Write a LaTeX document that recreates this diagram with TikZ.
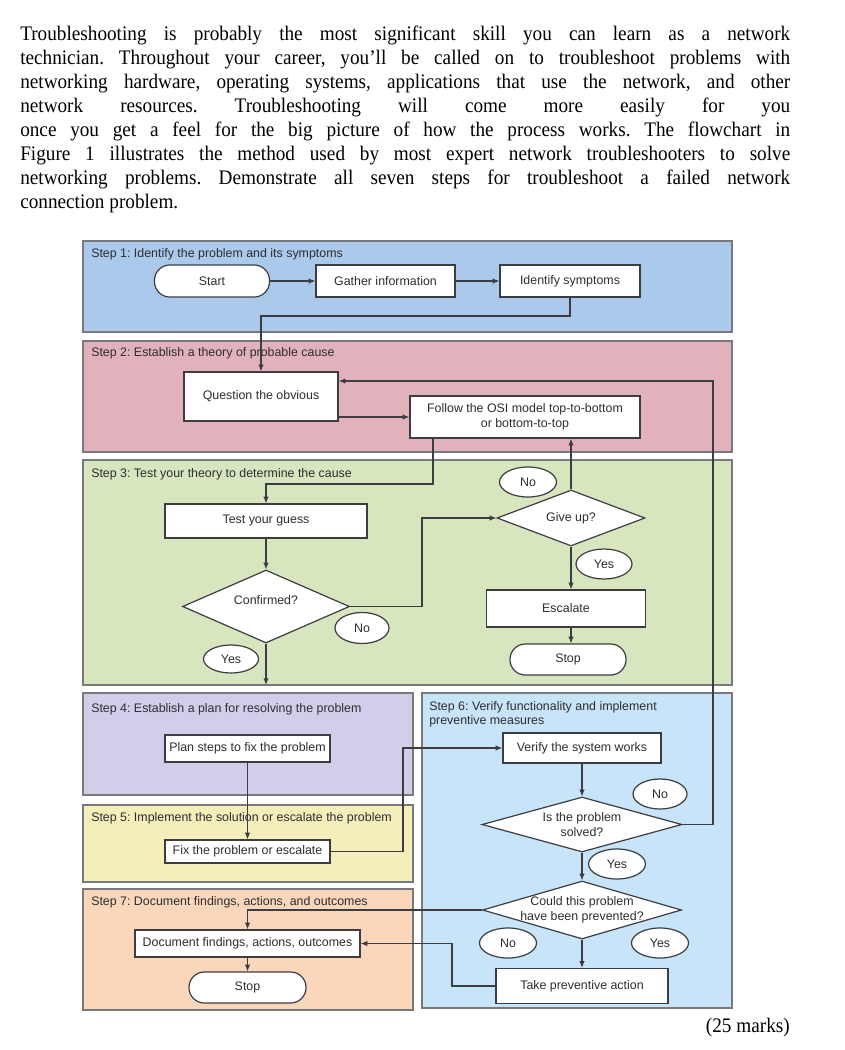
\documentclass[tikz,border=0pt]{standalone}
\usepackage{fontspec}
\setmainfont{Liberation Serif}[FakeStretch=0.93]
\newfontfamily\dfont{Liberation Sans}
\usetikzlibrary{shapes.geometric,arrows.meta}
\frenchspacing
\definecolor{cA}{RGB}{170,201,235}
\definecolor{cB}{RGB}{226,178,188}
\definecolor{cC}{RGB}{215,230,190}
\definecolor{cD}{RGB}{208,206,232}
\definecolor{cE}{RGB}{243,238,186}
\definecolor{cF}{RGB}{200,228,248}
\definecolor{cG}{RGB}{250,214,186}
\definecolor{regborder}{RGB}{120,120,125}
\definecolor{nodeborder}{RGB}{60,60,65}
\definecolor{txt}{RGB}{45,45,50}
\tikzset{
  region/.style={draw=regborder, line width=1.1pt},
  blk/.style 2 args={draw=nodeborder, fill=white, line width=0.9pt,
     minimum width=#1*0.75pt, minimum height=#2*0.75pt, inner sep=1pt,
     font=\dfont\fontsize{9.3}{11}\selectfont, text=txt, align=center},
  term/.style 2 args={blk={#1}{#2}, rounded corners=11.5pt},
  dia/.style 2 args={blk={#1}{#2}, diamond, inner sep=0pt},
  dtext/.style={inner sep=0pt, font=\dfont\fontsize{9.3}{11}\selectfont, text=txt, align=center},
  lab/.style 2 args={blk={#1}{#2}, ellipse, inner sep=0pt},
  steptitle/.style={anchor=base west, inner sep=0pt, font=\dfont\fontsize{9.3}{13}\selectfont, text=txt, align=left},
  para/.style={anchor=base west, inner sep=0pt, font=\fontsize{15.5}{18}\selectfont},
  arr/.style={draw=nodeborder, line width=0.8pt, -{Latex[length=5pt,width=4pt]}},
  ln/.style={draw=nodeborder, line width=0.8pt}
}
\begin{document}
\begin{tikzpicture}[x=0.75pt,y=-0.75pt]
\useasboundingbox[fill=white] (0,0) rectangle (845,1050);

% paragraph
\node[para] (l1) at (20,40.5) {\makebox[577.5pt][s]{Troubleshooting is probably the most significant skill you can learn as a network}};
\node[para] (l2) at (20,64.5) {\makebox[577.5pt][s]{technician. Throughout your career, you’ll be called on to troubleshoot problems with}};
\node[para] (l3) at (20,88.5) {\makebox[577.5pt][s]{networking hardware, operating systems, applications that use the network, and other}};
\node[para] (l4) at (20,112.5) {\makebox[577.5pt][s]{network resources. Troubleshooting will come more easily for you}};
\node[para] (l5) at (20,136.5) {\makebox[577.5pt][s]{once you get a feel for the big picture of how the process works. The flowchart in}};
\node[para] (l6) at (20,160.5) {\makebox[577.5pt][s]{Figure 1 illustrates the method used by most expert network troubleshooters to solve}};
\node[para] (l7) at (20,184.5) {\makebox[577.5pt][s]{networking problems. Demonstrate all seven steps for troubleshoot a failed network}};
\node[para] (l8) at (20,208.5) {connection problem.};
\node[anchor=base east, inner sep=0pt, font=\fontsize{15.5}{18}\selectfont] (marks) at (790,1032) {(25 marks)};

% regions
\draw[region, fill=cA] (83,241) rectangle (732,332);
\draw[region, fill=cB] (83,341) rectangle (732,452);
\draw[region, fill=cC] (83,460) rectangle (732,685);
\draw[region, fill=cD] (83,693) rectangle (413,795);
\draw[region, fill=cE] (83,805) rectangle (413,882);
\draw[region, fill=cG] (83,889) rectangle (413,1010);
\draw[region, fill=cF] (422,693) rectangle (732,1008);

\node[steptitle] (t1) at (91,257) {Step 1: Identify the problem and its symptoms};
\node[steptitle] (t2) at (91,356) {Step 2: Establish a theory of probable cause};
\node[steptitle] (t3) at (91,477) {Step 3: Test your theory to determine the cause};
\node[steptitle] (t4) at (91,712) {Step 4: Establish a plan for resolving the problem};
\node[steptitle] (t5) at (91,821) {Step 5: Implement the solution or escalate the problem};
\node[steptitle] (t7) at (91,905) {Step 7: Document findings, actions, and outcomes};
\node[steptitle] (t6a) at (429,710) {Step 6: Verify functionality and implement};
\node[steptitle] (t6b) at (429,724) {preventive measures};

% nodes
\node[term={115}{32}] (start) at (212,281) {Start};
\node[blk={139}{32}] (gather) at (385.5,281) {Gather information};
\node[blk={140}{32}] (ident) at (570,281) {Identify symptoms};
\node[blk={154}{49}] (question) at (261,396.5) {Question the obvious};
\node[blk={230}{42}] (osi) at (525,417) {Follow the OSI model top-to-bottom\\or bottom-to-top};
\node[blk={202}{34}] (test) at (266,521) {Test your guess};
\node[dia={167}{73}] (confirmed) at (266,606.5) {};
\node[dtext] (confirmedtxt) at (266,600) {Confirmed?};
\node[dia={148}{56}] (giveup) at (571,518) {};
\node[dtext] (giveuptxt) at (571,518) {Give up?};
\node[blk={159}{37}] (escalate) at (566,608.5) {Escalate};
\node[term={116}{31}] (stopA) at (568,659.5) {Stop};
\node[blk={165}{27}] (plan) at (247.5,748.5) {Plan steps to fix the problem};
\node[blk={165}{23}] (fix) at (247.5,851.5) {Fix the problem or escalate};
\node[blk={158}{30}] (verify) at (582,748) {Verify the system works};
\node[dia={200}{55}] (solved) at (582,824.5) {};
\node[dtext] (solvedtxt) at (582,824.5) {Is the problem\\solved?};
\node[dia={199}{58}] (could) at (582,910) {};
\node[dtext] (couldtxt) at (582,910) {Could this problem\\have been prevented?};
\node[blk={172}{35}] (take) at (582,986) {Take preventive action};
\node[blk={225}{27}] (doc) at (247.5,943.5) {Document findings, actions, outcomes};
\node[term={117}{31}] (stopB) at (247.5,987.5) {Stop};

% labels
\node[lab={57}{30}] (noA) at (528,482) {No};
\node[lab={56}{30}] (yesA) at (604,564) {Yes};
\node[lab={54}{31}] (noB) at (362,628) {No};
\node[lab={55}{28}] (yesB) at (231,659) {Yes};
\node[lab={54}{30}] (noC) at (660,794) {No};
\node[lab={57}{30}] (yesC) at (617,864) {Yes};
\node[lab={57}{30}] (noD) at (508,943) {No};
\node[lab={57}{30}] (yesD) at (660,943) {Yes};

% helper coordinates
\coordinate (c1) at (570,316);
\coordinate (rx) at (713,381);
\coordinate (osiout) at (433,438);
\coordinate (c3a) at (433,484);
\coordinate (c3b) at (422,606.5);
\coordinate (c3end) at (266,685);
\coordinate (c5) at (403,851.5);
\coordinate (c7) at (452,986);

% connectors
\draw[arr] (start) -- (gather);
\draw[arr] (gather) -- (ident);
\draw[arr] (ident.south) -- (c1) -| (question.north);
\draw[arr] (question.east |- osi.west) -- (osi.west);
\draw[arr] (solved.east) -| (rx) -- (question.east |- rx);
\draw[arr] (osiout) -- (c3a) -| (test.north);
\draw[arr] (giveup.north) -- (giveup.north |- osi.south);
\draw[arr] (test.south) -- (confirmed.north);
\draw[arr] (confirmed.east) -- (c3b) |- (giveup.west);
\draw[arr] (confirmed.south) -- (c3end);
\draw[arr] (giveup.south) -- (giveup.south |- escalate.north);
\draw[arr] (giveup.south |- escalate.south) -- (giveup.south |- stopA.north);
\draw[arr] (plan.south) -- (fix.north);
\draw[arr] (fix.east) -- (c5) |- (verify.west);
\draw[arr] (verify.south) -- (solved.north);
\draw[arr] (solved.south) -- (could.north);
\draw[arr] (could.west) -| (doc.north);
\draw[arr] (take.west) -- (c7) |- (doc.east);
\draw[arr] (could.south) -- (take.north);
\draw[arr] (doc.south) -- (stopB.north);
\end{tikzpicture}
\end{document}
